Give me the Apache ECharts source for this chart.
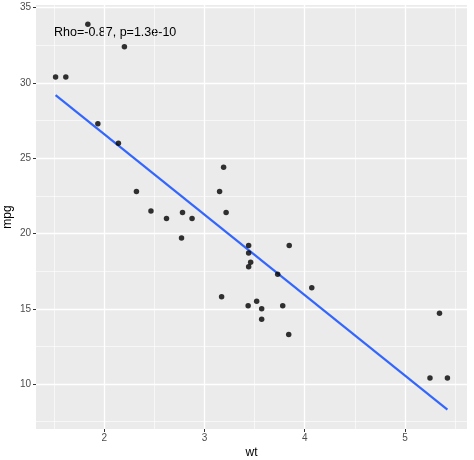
<!DOCTYPE html>
<html><head><meta charset="utf-8">
<script src="https://cdn.jsdelivr.net/npm/echarts@6/dist/echarts.min.js"></script>
<style>html,body{margin:0;padding:0;background:#fff}#c{width:474px;height:460px}</style>
</head><body><div id="c"></div>
<script>
const wt = [2.620,2.875,2.320,3.215,3.440,3.460,3.570,3.190,3.150,3.440,3.440,4.070,3.730,3.780,5.250,5.424,5.345,2.200,1.615,1.835,2.465,3.520,3.435,3.840,3.845,1.935,2.140,1.513,3.170,2.770,3.570,2.780];
const mpg = [21.0,21.0,22.8,21.4,18.7,18.1,14.3,24.4,22.8,19.2,17.8,16.4,17.3,15.2,10.4,10.4,14.7,32.4,30.4,33.9,21.5,15.5,15.2,13.3,19.2,27.3,26.0,30.4,15.8,19.7,15.0,21.4];
const fitX = [1.513, 5.424];
const fitY = [29.199, 8.302];
const xTicks = [2,3,4,5];
const xMinor = [1.5,2.5,3.5,4.5,5.5];
const yTicks = [10,15,20,25,30,35];
const yMinor = [7.5,12.5,17.5,22.5,27.5,32.5];
const label = 'Rho=-0.87, p=1.3e-10';
const xTitle = 'wt', yTitle = 'mpg';
const xMin = 1.3175, xMax = 5.6195, yMin = 7.017, yMax = 35.18;

const pts = wt.map((w,i)=>[w, mpg[i]]);
const line = fitX.map((x,i)=>[x, fitY[i]]);
const font = 'Liberation Sans, Arial, sans-serif';
const chart = echarts.init(document.getElementById('c'));
const gridLine = (w)=>({show:true, lineStyle:{color:'#ffffff', width:w}});
chart.setOption({
  animation:false,
  backgroundColor:'#ffffff',
  grid:{left:36, right:7, top:5, bottom:31, show:true, backgroundColor:'#EBEBEB', borderWidth:0,
        containLabel:false, outerBoundsMode:'none'},
  xAxis:[
    {type:'value', min:xMin, max:xMax, name:xTitle, nameLocation:'middle', nameGap:18, nameMoveOverlap:false,
     nameTextStyle:{color:'#000', fontSize:12, fontFamily:font},
     axisLine:{show:false},
     axisTick:{show:true, length:3, lineStyle:{color:'#333', width:1}, customValues:xTicks},
     axisLabel:{color:'#4D4D4D', fontSize:10, fontFamily:font, margin:4, customValues:xTicks},
     splitLine:gridLine(1.3)},
    {type:'value', min:xMin, max:xMax, position:'bottom',
     axisLine:{show:false}, axisLabel:{show:false},
     axisTick:{show:false, customValues:xMinor},
     splitLine:gridLine(0.6)}
  ],
  yAxis:[
    {type:'value', min:yMin, max:yMax,
     axisLine:{show:false},
     axisTick:{show:true, length:3, lineStyle:{color:'#333', width:1}, customValues:yTicks},
     axisLabel:{color:'#4D4D4D', fontSize:10, fontFamily:font, margin:5, customValues:yTicks},
     splitLine:gridLine(1.3)},
    {type:'value', min:yMin, max:yMax, position:'left',
     axisLine:{show:false}, axisLabel:{show:false},
     axisTick:{show:false, customValues:yMinor},
     splitLine:gridLine(0.6)}
  ],
  graphic:[
    {type:'text', left:54, top:26, style:{text:label, fill:'#000', font:'12.5px '+font}},
    {type:'text', x:8, y:217, rotation:Math.PI/2,
     style:{text:yTitle, fill:'#000', font:'12px '+font, align:'center', verticalAlign:'middle'}}
  ],
  series:[
    {type:'line', data:line, showSymbol:false, symbol:'none', lineStyle:{color:'#3366FF', width:2.2}, z:3},
    {type:'scatter', data:pts, symbol:'circle', symbolSize:5.5, itemStyle:{color:'#000'}, z:4}
  ]
});
</script></body></html>
